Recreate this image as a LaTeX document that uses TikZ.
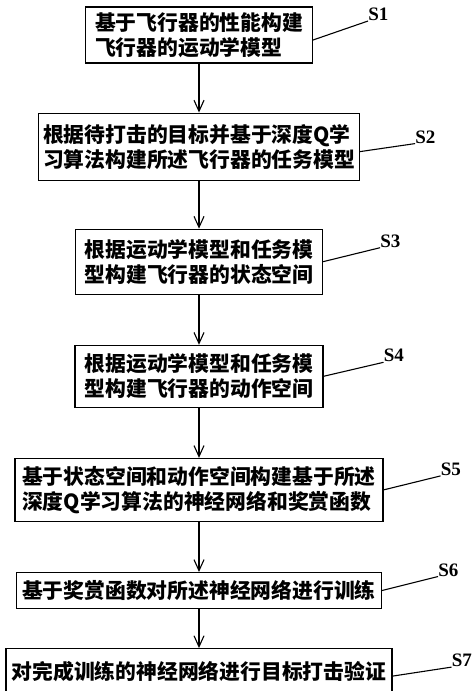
\documentclass[tikz,border=0pt]{standalone}
\usepackage{fontspec}
\setmainfont{Noto Sans CJK SC}
\newfontfamily\tagfont{Liberation Serif}
\usetikzlibrary{positioning,arrows.meta}

\begin{document}
\begin{tikzpicture}[x=1pt,y=-1pt]
\tikzstyle{every node}=[inner sep=0pt]
\tikzstyle{stepbox}=[draw,line width=1.1pt,align=left,font=\bfseries\fontsize{20.8pt}{25pt}\selectfont]
\tikzstyle{steptag}=[font=\tagfont\bfseries\fontsize{19pt}{19pt}\selectfont]
\tikzstyle{flow}=[line width=1.1pt,-{Straight Barb[length=11pt,width=10pt,line width=1.1pt]}]
\tikzstyle{lead}=[line width=1.1pt]
\useasboundingbox (0,0) rectangle (474,691);
% steps
\node[stepbox,minimum width=227pt,minimum height=56pt] (s1) at (199,35)
  {基于飞行器的性能构建\\飞行器的运动学模型};
\node[stepbox,minimum width=321pt,minimum height=67pt,below=49pt of s1] (s2)
  {根据待打击的目标并基于深度Q学\\习算法构建所述飞行器的任务模型};
\node[stepbox,minimum width=247pt,minimum height=65pt,below=48pt of s2] (s3)
  {根据运动学模型和任务模\\型构建飞行器的状态空间};
\node[stepbox,minimum width=248pt,minimum height=62pt,below=50pt of s3] (s4)
  {根据运动学模型和任务模\\型构建飞行器的动作空间};
\node[stepbox,minimum width=368pt,minimum height=63pt,below=50pt of s4] (s5)
  {基于状态空间和动作空间构建基于所述\\深度Q学习算法的神经网络和奖赏函数};
\node[stepbox,minimum width=365pt,minimum height=36pt,below=50pt of s5] (s6)
  {基于奖赏函数对所述神经网络进行训练};
\node[stepbox,minimum width=386pt,minimum height=45pt,below=39pt of s6] (s7)
  {对完成训练的神经网络进行目标打击验证};
% tags
\node[steptag,above right=14pt and 55pt of s1.east] (t1) {S1};
\node[steptag,above right=3pt and 55pt of s2.east] (t2) {S2};
\node[steptag,above right=14pt and 57pt of s3.east] (t3) {S3};
\node[steptag,above right=14pt and 60pt of s4.east] (t4) {S4};
\node[steptag,above right=14pt and 57pt of s5.east] (t5) {S5};
\node[steptag,above right=14pt and 56pt of s6.east] (t6) {S6};
\node[steptag,above right=4pt and 59pt of s7.east] (t7) {S7};
% arrows
\draw[flow] (s1) -- (s2);
\draw[flow] (s2) -- (s3);
\draw[flow] (s3) -- (s4);
\draw[flow] (s4) -- (s5);
\draw[flow] (s5) -- (s6);
\draw[flow] (s6) -- (s7);
% leaders
\draw[lead] ([yshift=-5pt]s1.east) -- (t1.south west);
\draw[lead] ([yshift=-5pt]s2.east) -- (t2.south west);
\draw[lead] (s3.east) -- (t3.south west);
\draw[lead] (s4.east) -- (t4.south west);
\draw[lead] (s5.east) -- (t5.south west);
\draw[lead] (s6.east) -- (t6.south west);
\draw[lead] ([yshift=-5pt]s7.east) -- (t7.south west);
\end{tikzpicture}
\end{document}
